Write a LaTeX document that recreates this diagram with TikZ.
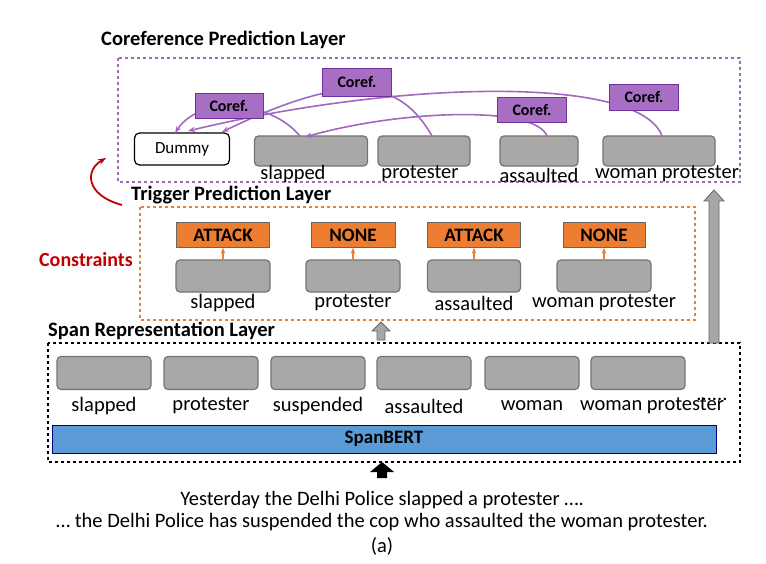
\documentclass[tikz,border=0pt]{standalone}
\usepackage{fontspec}
\setmainfont{Carlito}
\usetikzlibrary{arrows.meta}
\definecolor{ora}{RGB}{237,125,49}
\definecolor{pur}{RGB}{168,110,196}
\definecolor{purd}{RGB}{112,48,160}
\definecolor{blu}{RGB}{91,155,213}
\definecolor{gry}{RGB}{170,167,167}
\begin{document}
\begin{tikzpicture}[x=1pt,y=-1pt,
 gb/.style={draw=black!55,fill=gry,rounded corners=4pt,line width=1.2pt},
 ob/.style={draw=black!60,fill=ora,font=\bfseries\fontsize{19}{19}\selectfont,inner sep=0pt},
 pb/.style={draw=purd,fill=pur,font=\bfseries\fontsize{16}{16}\selectfont,inner sep=0pt},
 lbl/.style={font=\fontsize{20.5}{20.5}\selectfont,inner sep=0pt},
 ttl/.style={font=\bfseries\fontsize{20.5}{20.5}\selectfont,inner sep=0pt,anchor=west},
 cf/.style={draw=pur!90!purd,line width=1.6pt,-{Stealth[length=7pt]}},
 ga/.style={draw=black!60,fill=gray!70,line width=0.8pt}]
\useasboundingbox (0,0) rectangle (766,564);
% Coref layer
\node[ttl] (t1) at (101,40) {Coreference Prediction Layer};
\draw[pur!90!purd,dashed,line width=1.6pt] (118,58) rectangle (740,182);
\node[draw=black,rounded corners=5pt,line width=1.2pt,minimum width=95pt,minimum height=32pt,font=\fontsize{17}{17}\selectfont] (dum) at (182,149) {Dummy};
\node[gb,minimum width=113pt,minimum height=30pt] (c1) at (311,151) {};
\node[gb,minimum width=92pt,minimum height=30pt] (c2) at (424,151) {};
\node[gb,minimum width=78pt,minimum height=30pt] (c3) at (539,151) {};
\node[gb,minimum width=112pt,minimum height=30pt] (c4) at (659,151) {};
\node[lbl] at (293,174) {slapped};
\node[lbl] at (420,174) {protester};
\node[lbl] at (539,175) {assaulted};
\node[lbl] at (667,174) {woman protester};
\coordinate (d1) at (175,133);
\coordinate (d2) at (222,132);
\coordinate (d3) at (188,131);
\coordinate (s1) at (305,137);
\draw[cf] (300,136) .. controls (270,100) and (200,95) .. (d1);
\draw[cf] (432,136) .. controls (400,80) and (350,70) .. (d2);
\draw[cf] (547,136) .. controls (535,105) and (400,110) .. (s1);
\draw[cf] (662,136) .. controls (640,75) and (400,80) .. (d3);
\node[pb,minimum width=68pt,minimum height=25pt] (k1) at (229,106) {Coref.};
\node[pb,minimum width=69pt,minimum height=28pt] (k2) at (357,82) {Coref.};
\node[pb,minimum width=69pt,minimum height=25pt] (k3) at (532,110) {Coref.};
\node[pb,minimum width=69pt,minimum height=26pt] (k4) at (644,97) {Coref.};
% Trigger layer
\node[ttl] (t2) at (131,195) {Trigger Prediction Layer};
\draw[ora,dashed,line width=1.6pt] (140,207) rectangle (695,320);
\foreach \n/\x/\w/\ow/\lab/\txt in {1/223/94/93/ATTACK/slapped,2/353/94/84/NONE/protester,3/474/93/93/ATTACK/assaulted,4/604/94/82/NONE/woman protester}{
 \node[gb,minimum width=\w pt,minimum height=32pt] (g\n) at (\x,276) {};
 \node[ob,minimum width=\ow pt,minimum height=25pt] (o\n) at (\x,235) {\lab};
 \node[lbl] at (\x,303) {\txt};
 \draw[ora,line width=1.2pt,-{Stealth[length=6pt]}] (g\n.north) -- (o\n.south);
}
\node[font=\bfseries\fontsize{20}{20}\selectfont,text=red!75!black,inner sep=0pt] (con) at (86,260) {Constraints};
\draw[red!75!black,line width=1.8pt,-{Stealth[length=8pt]}] (122,205) .. controls (85,195) and (85,170) .. (106,158);
% Span layer
\node[ttl] (t3) at (48,331) {Span Representation Layer};
\draw[black,dashed,line width=1.6pt] (48,343) rectangle (740,462);
\foreach \n/\x/\txt in {1/104/slapped,2/211/protester,3/318/suspended,4/424/assaulted,5/532/woman,6/652/woman protester}{
 \node[lbl] at (\x,406) {\txt};
}
\foreach \n/\x in {1/104,2/211,3/318,4/424,5/532,6/638}{
 \node[gb,minimum width=94pt,minimum height=33pt] (sp\n) at (\x,373) {};
}
\node[lbl] at (712,399) {......};
\node[draw=blue!50!black,fill=blu,line width=0.8pt,minimum width=664pt,minimum height=28pt,font=\bfseries\fontsize{19}{19}\selectfont,inner sep=0pt] (bert) at (384,439) {SpanBERT};
% arrows
\draw[ga] (377,340) -- (377,331) -- (372,331) -- (381,322) -- (390,331) -- (385,331) -- (385,340) -- cycle;
\draw[ga] (709,343) -- (709,201) -- (704,201) -- (714,190) -- (724,201) -- (719,201) -- (719,343) -- cycle;
\fill[black] (377,478) -- (377,472) -- (370,472) -- (382,462) -- (394,472) -- (387,472) -- (387,478) -- cycle;
% text
\node[lbl] (x1) at (382,500) {Yesterday the Delhi Police slapped a protester ….};
\node[lbl] (x2) at (382,522) {… the Delhi Police has suspended the cop who assaulted the woman protester.};
\node[lbl] (x3) at (382,546) {(a)};
\end{tikzpicture}
\end{document}
